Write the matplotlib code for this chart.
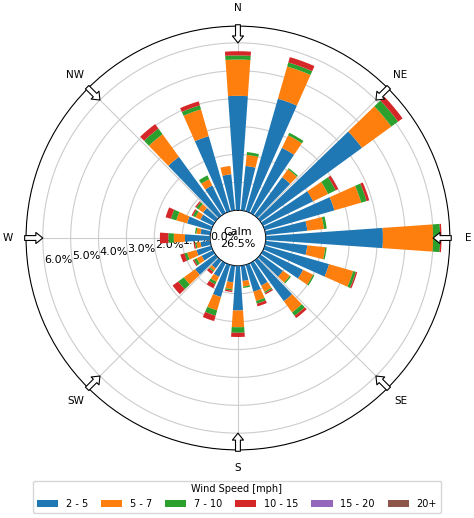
import numpy as np
import matplotlib.pyplot as plt

# wind directions (deg, clockwise from N) and frequency (%) per speed bin
directions = np.arange(0, 360, 10)
s2_5 = [4.1, 1.6, 4.2, 2.6, 1.7, 4.5, 2.0, 2.6, 1.5, 4.2, 1.5, 2.4, 1.6, 1.0, 1.8, 0.9, 1.0, 0.55,
        1.6, 0.6, 1.2, 0.55, 0.35, 0.9, 0.45, 0.55, 0.35, 0.9, 0.35, 0.9, 0.5, 0.55, 2.6, 1.1, 2.8, 1.3]
s5_7 = [1.3, 0.4, 1.2, 0.5, 0.35, 1.3, 0.6, 1.0, 0.6, 1.8, 0.65, 0.9, 0.4, 0.3, 0.5, 0.25, 0.35, 0.2,
        0.6, 0.25, 0.5, 0.2, 0.1, 0.5, 0.2, 0.35, 0.15, 0.4, 0.15, 0.4, 0.2, 0.2, 1.0, 0.25, 1.0, 0.3]
s7_10 = [0.15, 0.1, 0.15, 0.1, 0.05, 0.3, 0.3, 0.2, 0.1, 0.25, 0.05, 0.1, 0.05, 0.05, 0.15, 0.05, 0.1, 0.05,
         0.2, 0.05, 0.2, 0.1, 0.05, 0.25, 0.1, 0.1, 0.05, 0.2, 0.05, 0.2, 0.1, 0.1, 0.25, 0.15, 0.15, 0.0]
s10_15 = [0.15, 0.0, 0.2, 0.0, 0.0, 0.2, 0.1, 0.1, 0.0, 0.05, 0.0, 0.05, 0.0, 0.0, 0.1, 0.05, 0.1, 0.0,
          0.15, 0.05, 0.2, 0.15, 0.1, 0.25, 0.05, 0.15, 0.05, 0.3, 0.0, 0.2, 0.05, 0.05, 0.2, 0.0, 0.15, 0.0]
s15_20 = [0.0] * 36
s20p = [0.0] * 36
bins = ['2 - 5', '5 - 7', '7 - 10', '10 - 15', '15 - 20', '20+']
colors = ['#1f77b4', '#ff7f0e', '#2ca02c', '#d62728', '#9467bd', '#8c564b']
calm = 26.5

fig = plt.figure(figsize=(4.74, 5.18), dpi=100)
ax = fig.add_axes([0.055, 0.131, 0.894, 0.819], projection='polar')
ax.set_theta_zero_location('N')
ax.set_theta_direction(-1)
ax.set_rorigin(-1.0)
ax.set_ylim(0, 6.6)

theta = np.radians(directions)
width = np.radians(8)
bottom = np.zeros(36)
for vals, lab, c in zip([s2_5, s5_7, s7_10, s10_15, s15_20, s20p], bins, colors):
    vals = np.array(vals)
    ax.bar(theta, vals, width=width, bottom=bottom, color=c, label=lab, zorder=3)
    bottom += vals

ax.set_rticks(np.arange(0, 7, 1.0))
ax.set_yticklabels([f'{v:.1f}%' for v in np.arange(0, 7, 1.0)], fontsize=8)
ax.set_rlabel_position(262)
ax.set_thetagrids(np.arange(0, 360, 45), labels=[''] * 8)
ax.grid(color='#cccccc', lw=0.8)
ax.text(0, -1, f'Calm\n{calm}%', ha='center', va='center', fontsize=8, zorder=5)

names = ['N', 'NE', 'E', 'SE', 'S', 'SW', 'W', 'NW']
for ang, nm in zip(np.arange(0, 360, 45), names):
    t = np.radians(ang)
    ax.annotate('', xy=(t, 5.9), xytext=(t, 6.75), annotation_clip=False,
                arrowprops=dict(arrowstyle='simple,head_width=0.8,tail_width=0.35', fc='white', ec='black', lw=0.8))
    ax.text(t, 7.25, nm, ha='center', va='center', fontsize=7.5)

fig.legend(loc='lower center', ncol=6, title='Wind Speed [mph]', fontsize=7, title_fontsize=7,
           bbox_to_anchor=(0.5, 0.0), handlelength=2.2, columnspacing=1.3)
fig.savefig('out.png')
